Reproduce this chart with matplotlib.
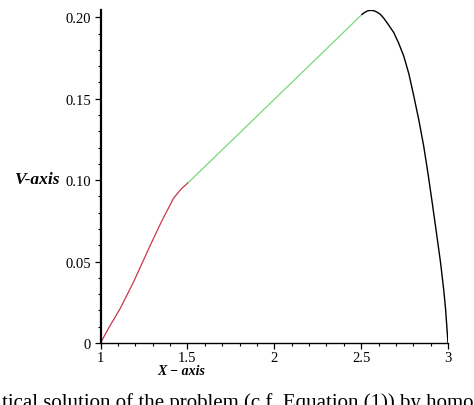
#!/usr/bin/env python3
"""Maple-style curve: V vs X, three coloured pieces on [1, 3]."""

import matplotlib
matplotlib.use('Agg')
import matplotlib.pyplot as plt
from matplotlib.ticker import MultipleLocator, FixedLocator

plt.rcParams['font.family'] = ['Liberation Serif', 'DejaVu Serif']

# curve, in three pieces
red_x = [1.0, 1.05, 1.112, 1.189, 1.285, 1.353, 1.42, 1.45, 1.468, 1.506]
red_y = [0.0, 0.0098, 0.0209, 0.0372, 0.0597, 0.0750, 0.0888, 0.0928, 0.0949, 0.0986]

green_x = [1.506, 1.769, 2.0, 2.25, 2.505]
green_y = [0.0986, 0.1257, 0.1496, 0.1754, 0.2018]

black_x = [2.505, 2.52, 2.538, 2.557, 2.575, 2.593, 2.611, 2.63, 2.655, 2.688,
           2.715, 2.745, 2.775, 2.803, 2.832, 2.860, 2.885, 2.909, 2.933,
           2.957, 2.975, 2.986, 3.0]
black_y = [0.2018, 0.2030, 0.2040, 0.2043, 0.2040, 0.2031, 0.2018, 0.1995,
           0.1958, 0.1906, 0.1844, 0.1763, 0.1652, 0.1517, 0.1370, 0.1210,
           0.1040, 0.0863, 0.0680, 0.0495, 0.0330, 0.0209, 0.0]

x_ticks = [1, 1.5, 2, 2.5, 3]
x_labels = ['1', '1.5', '2', '2.5', '3']
y_ticks = [0, 0.05, 0.10, 0.15, 0.20]
y_labels = ['0', '0.05', '0.10', '0.15', '0.20']

caption = 'tical solution of the problem (c.f. Equation (1)) by homotopy'

W, H = 474, 406
fig = plt.figure(figsize=(W / 100, H / 100), dpi=100)
ax = fig.add_axes([100.5 / W, 62 / H, 347.5 / W, 333 / H])

ax.plot(red_x, red_y, color='#c8384a', lw=0.9)
ax.plot(green_x, green_y, color='#78d878', lw=0.9)
ax.plot(black_x, black_y, color='black', lw=1.0)

ax.set_xlim(1, 3)
ax.set_ylim(0, 0.2045)
for s in ('top', 'right'):
    ax.spines[s].set_visible(False)
ax.spines['left'].set_linewidth(1.6)
ax.spines['bottom'].set_linewidth(1.0)

ax.xaxis.set_major_locator(FixedLocator(x_ticks))
ax.set_xticklabels(x_labels)
ax.yaxis.set_major_locator(FixedLocator(y_ticks))
ax.set_yticklabels(y_labels)
ax.xaxis.set_minor_locator(MultipleLocator(0.1))
ax.yaxis.set_minor_locator(MultipleLocator(0.01))
ax.tick_params(which='major', direction='out', length=4, width=0.9,
               labelsize=10.5, pad=2)
ax.tick_params(which='minor', direction='out', length=2.2, width=0.8)
ax.tick_params(axis='y', which='major', pad=3)

fig.text(181.5 / W, 1 - 372 / H, 'X \u2212 axis', fontsize=10,
         fontweight='bold', fontstyle='italic', ha='center', va='center')
fig.text(60 / W, 1 - 180 / H, 'V-axis', fontsize=12.5,
         fontweight='bold', fontstyle='italic', ha='right', va='center')
fig.text(2 / W, -2 / H, caption, fontsize=15, ha='left', va='baseline')

fig.savefig('out.png', dpi=100)
